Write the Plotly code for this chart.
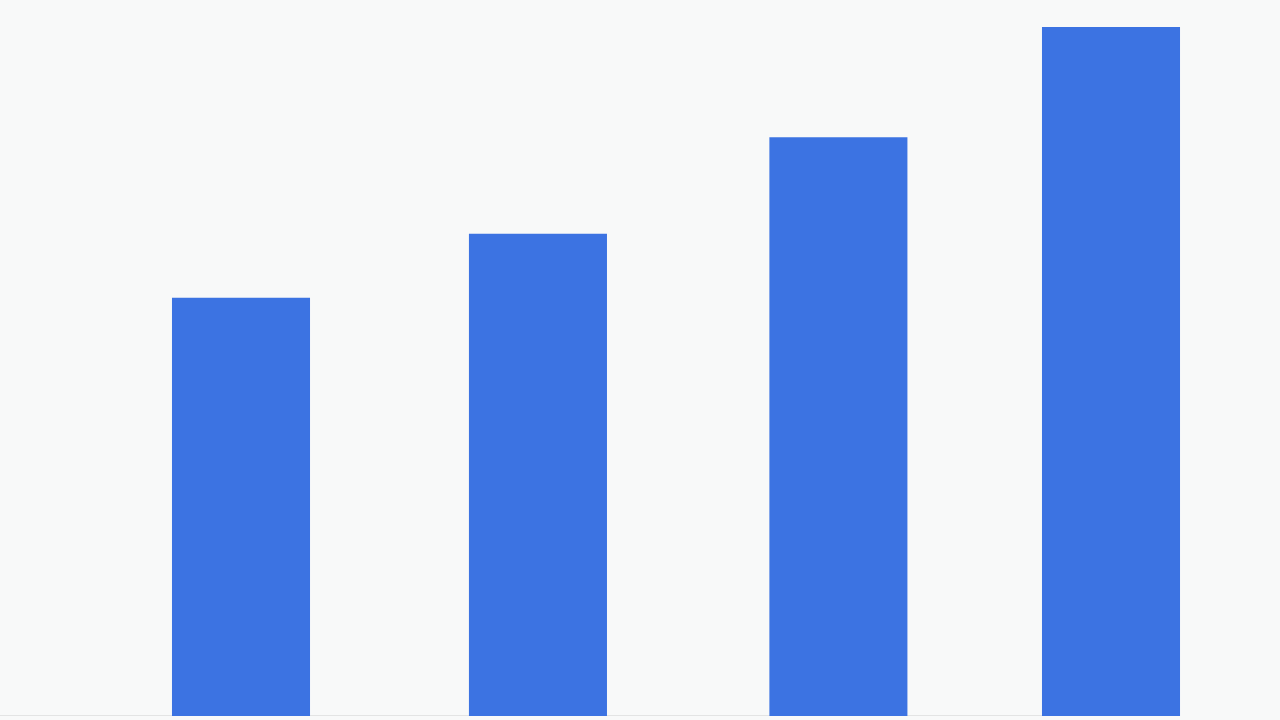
import plotly.graph_objects as go

# four unlabeled bars, values read relative to the tallest one
categories = ["A", "B", "C", "D"]
values = [60.7, 70.0, 84.0, 100.0]

bar_color = "#3c73e2"
bg_color = "#f8f9f9"

# the bars in the source are not quite evenly spaced, so nudge each one
bar_width = 0.476
bar_offset = [-0.238, -0.214, -0.178, -0.238]

fig = go.Figure()
fig.add_trace(go.Bar(x=categories, y=values, width=bar_width, offset=bar_offset,
                     marker=dict(color=bar_color, line=dict(width=0)),
                     hoverinfo="skip", showlegend=False))

# faint baseline, runs past the left edge of the plot area
fig.add_shape(type="line", xref="paper", yref="y", x0=-0.09, x1=0.87, y0=0, y1=0,
              line=dict(color="#dcdcdc", width=1.5), layer="below")

fig.update_layout(
    width=1280, height=720,
    margin=dict(l=96, r=24, t=27, b=4),
    paper_bgcolor=bg_color, plot_bgcolor=bg_color,
    xaxis=dict(visible=False, range=[-0.5, 3.5]),
    yaxis=dict(visible=False, range=[0, 100]),
)

fig.write_html("out.html", config=dict(displayModeBar=False),
               post_script="document.body.style.margin='0';document.body.style.background='%s';" % bg_color)
